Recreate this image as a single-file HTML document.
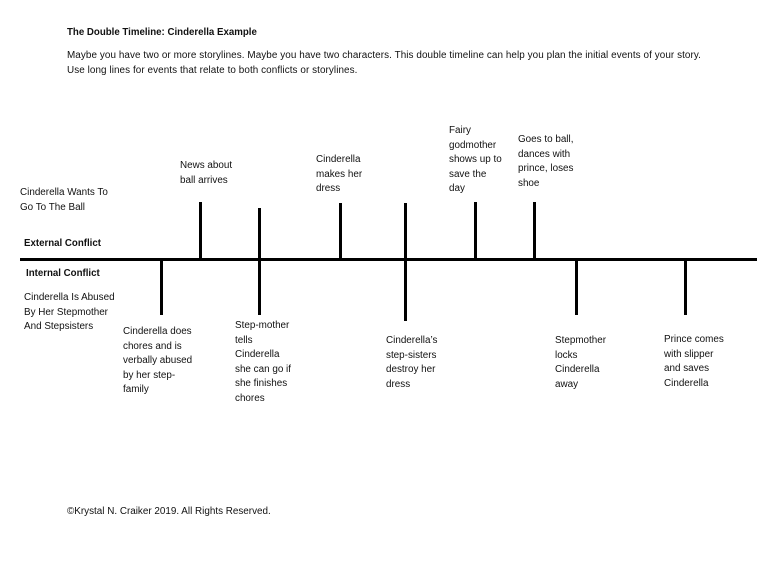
<!DOCTYPE html>
<html><head><meta charset="utf-8"><style>
body{margin:0;width:771px;height:562px;background:#fff;position:relative;overflow:hidden;font-family:"Liberation Sans",sans-serif;font-size:9.9px;color:#111;}
.t{position:absolute;line-height:14.6px;white-space:nowrap;}
.b{font-weight:bold;font-size:9.7px;}
.v{position:absolute;width:2.5px;background:#000;}
</style></head><body>
<div class="t b" style="left:67px;top:26px">The Double Timeline: Cinderella Example</div>
<div class="t" style="left:67px;top:49px;letter-spacing:0.08px">Maybe you have two or more storylines. Maybe you have two characters. This double timeline can help you plan the initial events of your story.<br>Use long lines for events that relate to both conflicts or storylines.</div>

<div style="position:absolute;left:20px;top:258px;width:737px;height:3px;background:#000"></div>
<div class="v" style="left:199px;top:202px;height:58px"></div>
<div class="v" style="left:258px;top:208px;height:107px"></div>
<div class="v" style="left:339px;top:203px;height:57px"></div>
<div class="v" style="left:404px;top:203px;height:118px"></div>
<div class="v" style="left:474px;top:202px;height:58px"></div>
<div class="v" style="left:533px;top:202px;height:58px"></div>
<div class="v" style="left:160px;top:259px;height:56px"></div>
<div class="v" style="left:575px;top:259px;height:56px"></div>
<div class="v" style="left:684px;top:259px;height:56px"></div>

<div class="t" style="left:20px;top:186px">Cinderella Wants To<br>Go To The Ball</div>
<div class="t" style="left:180px;top:159px">News about<br>ball arrives</div>
<div class="t" style="left:316px;top:153px">Cinderella<br>makes her<br>dress</div>
<div class="t" style="left:449px;top:124px">Fairy<br>godmother<br>shows up to<br>save the<br>day</div>
<div class="t" style="left:518px;top:133px">Goes to ball,<br>dances with<br>prince, loses<br>shoe</div>
<div class="t b" style="left:24px;top:237px">External Conflict</div>
<div class="t b" style="left:26px;top:267px">Internal Conflict</div>
<div class="t" style="left:24px;top:291px">Cinderella Is Abused<br>By Her Stepmother<br>And Stepsisters</div>
<div class="t" style="left:123px;top:325px">Cinderella does<br>chores and is<br>verbally abused<br>by her step-<br>family</div>
<div class="t" style="left:235px;top:319px">Step-mother<br>tells<br>Cinderella<br>she can go if<br>she finishes<br>chores</div>
<div class="t" style="left:386px;top:334px">Cinderella’s<br>step-sisters<br>destroy her<br>dress</div>
<div class="t" style="left:555px;top:334px">Stepmother<br>locks<br>Cinderella<br>away</div>
<div class="t" style="left:664px;top:333px">Prince comes<br>with slipper<br>and saves<br>Cinderella</div>
<div class="t" style="left:67px;top:505px">©Krystal N. Craiker 2019. All Rights Reserved.</div>
</body></html>
